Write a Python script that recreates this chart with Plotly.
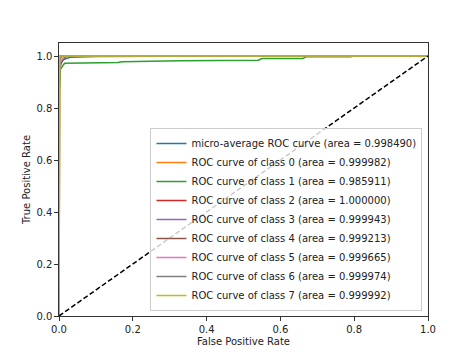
import plotly.graph_objects as go

# ROC data
labels = [
    "micro-average ROC curve (area = 0.998490)",
    "ROC curve of class 0 (area = 0.999982)",
    "ROC curve of class 1 (area = 0.985911)",
    "ROC curve of class 2 (area = 1.000000)",
    "ROC curve of class 3 (area = 0.999943)",
    "ROC curve of class 4 (area = 0.999213)",
    "ROC curve of class 5 (area = 0.999665)",
    "ROC curve of class 6 (area = 0.999974)",
    "ROC curve of class 7 (area = 0.999992)",
]
colors = ["#1f77b4", "#ff7f0e", "#2ca02c", "#d62728", "#9467bd",
          "#8c564b", "#e377c2", "#7f7f7f", "#bcbd22"]

fpr_micro = [0.0, 0.0, 0.003, 0.01, 0.03, 0.1, 0.3, 1.0]
tpr_micro = [0.0, 0.85, 0.96, 0.985, 0.995, 0.998, 0.999, 1.0]
fpr_c0 = [0.0, 0.0, 0.002, 0.01, 1.0]
tpr_c0 = [0.0, 0.97, 0.995, 1.0, 1.0]
fpr_c1 = [0.0, 0.0, 0.004, 0.015, 0.16, 0.17, 0.33, 0.54, 0.55, 0.66, 0.67, 0.79, 0.8, 1.0]
tpr_c1 = [0.0, 0.85, 0.95, 0.972, 0.975, 0.978, 0.982, 0.984, 0.99, 0.99, 0.997, 0.997, 1.0, 1.0]
fpr_c2 = [0.0, 0.0, 1.0]
tpr_c2 = [0.0, 1.0, 1.0]
fpr_c3 = [0.0, 0.0, 0.003, 0.008, 1.0]
tpr_c3 = [0.0, 0.96, 0.99, 1.0, 1.0]
fpr_c4 = [0.0, 0.0, 0.004, 0.012, 0.02, 1.0]
tpr_c4 = [0.0, 0.9, 0.975, 0.985, 1.0, 1.0]
fpr_c5 = [0.0, 0.0, 0.004, 0.015, 1.0]
tpr_c5 = [0.0, 0.93, 0.98, 1.0, 1.0]
fpr_c6 = [0.0, 0.0, 0.002, 0.01, 1.0]
tpr_c6 = [0.0, 0.97, 0.99, 1.0, 1.0]
fpr_c7 = [0.0, 0.0, 0.002, 1.0]
tpr_c7 = [0.0, 0.98, 1.0, 1.0]

fprs = [fpr_micro, fpr_c0, fpr_c1, fpr_c2, fpr_c3, fpr_c4, fpr_c5, fpr_c6, fpr_c7]
tprs = [tpr_micro, tpr_c0, tpr_c1, tpr_c2, tpr_c3, tpr_c4, tpr_c5, tpr_c6, tpr_c7]

diag_x = [0.0, 1.0]
diag_y = [0.0, 1.0]
tick_vals = [0.0, 0.2, 0.4, 0.6, 0.8, 1.0]

fig = go.Figure()
for x, y, name, c in zip(fprs, tprs, labels, colors):
    fig.add_trace(go.Scatter(x=x, y=y, mode="lines", name=name,
                             line=dict(color=c, width=1.5)))
fig.add_trace(go.Scatter(x=diag_x, y=diag_y, mode="lines", showlegend=False,
                         line=dict(color="black", width=1.5, dash="5px,2.5px")))

axis_common = dict(
    showline=True, linecolor="#333333", linewidth=1.2, mirror=True,
    ticks="outside", ticklen=3.5, tickwidth=1, tickcolor="#333333",
    showgrid=False, zeroline=False, tickvals=tick_vals, tickformat=".1f",
    tickfont=dict(size=10, color="#222222"), automargin=False,
    layer="above traces",
)
fig.update_xaxes(range=[0, 1.0], title=dict(text="False Positive Rate", standoff=4,
                 font=dict(size=10, color="#222222")), **axis_common)
fig.update_yaxes(range=[0, 1.05], title=dict(text="True Positive Rate", standoff=3,
                 font=dict(size=10, color="#222222")), **axis_common)

# margins compensate for the 8px default page body offset
fig.update_layout(
    width=474, height=355,
    margin=dict(l=51, r=54, t=35, b=47),
    paper_bgcolor="white", plot_bgcolor="white",
    font=dict(family="DejaVu Sans", size=10, color="#222222"),
    legend=dict(x=0.985, y=0.018, xanchor="right", yanchor="bottom",
                bgcolor="rgba(255,255,255,0.8)", bordercolor="#cccccc", borderwidth=1,
                font=dict(size=10), tracegroupgap=0, itemwidth=30),
)
fig.write_html("out.html")
